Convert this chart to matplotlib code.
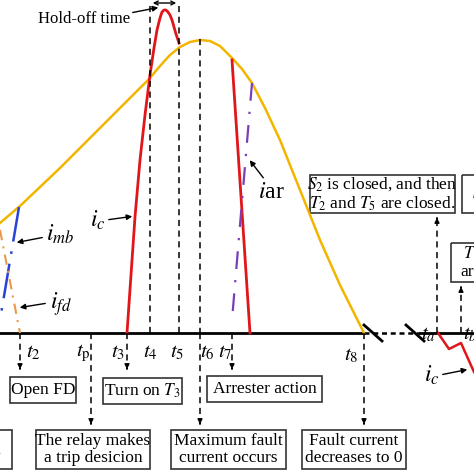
import numpy as np
import matplotlib.pyplot as plt
from matplotlib.patches import Rectangle

plt.rcParams['font.family'] = ['Liberation Serif', 'DejaVu Serif']
plt.rcParams['mathtext.fontset'] = 'stix'

# ---- data (drawing units) ----
fault_x = [0, 20, 60, 100, 140, 150, 160, 170, 180, 190, 200, 210, 220, 232, 242, 252,
           265, 280, 300, 320, 340, 364]
fault_y = [223, 206, 168, 128, 88, 78, 66, 55, 47, 42, 40, 41, 46, 58, 69, 83,
           108, 140, 190, 240, 285, 333]
ic1_x = [127, 131, 135, 140, 145, 150, 154, 157, 160, 162, 164, 166, 168, 170, 172, 174, 176, 179]
ic1_y = [333, 275, 217, 160, 115, 75, 48, 30, 18, 12, 10, 10, 12, 15, 20, 27, 34, 43]
ic2_x = [232, 250]
ic2_y = [60, 333]
iar_x = [252, 232]
iar_y = [83, 320]
imb_x = [19, 0]
imb_y = [207, 320]
ifd_x = [0, 20]
ifd_y = [230, 333]
icr_x = [438, 449, 461, 474]
icr_y = [333, 349, 343, 372]

tick_x = [20, 91, 127, 150, 179, 200, 232, 364, 437, 461]
tick_lbl = ['$t_2$', '$t_\\mathrm{p}$', '$t_3$', '$t_4$', '$t_5$', '$t_6$', '$t_7$', '$t_8$', '$t_a$', '$t_b$']
tick_lx = [33, 83, 118, 150, 177, 207, 225, 351, 428, 470]
tick_ly = [343, 343, 343, 343, 343, 343, 343, 346, 325, 325]

boxes = [
    (10, 377, 66, 26, 'Open FD'),
    (103, 378, 79, 26, 'Turn on $T_3$'),
    (207, 376, 115, 26, 'Arrester action'),
    (-20, 430, 32, 39, 'd'),
    (36, 430, 114, 39, 'The relay makes\na trip desicion'),
    (171, 430, 115, 39, 'Maximum fault\ncurrent occurs'),
    (302, 430, 104, 39, 'Fault current\ndecreases to 0'),
    (310, 175, 145, 38, '$S_2$ is closed, and then\n$T_2$ and $T_5$ are closed.'),
    (462, 175, 30, 38, '$S$'),
    (451, 243, 40, 39, '$T_1$\nare'),
]

fig = plt.figure(figsize=(4.74, 4.74), dpi=100)
ax = fig.add_axes([0, 0, 1, 1])
ax.set_xlim(0, 474)
ax.set_ylim(474, 0)
ax.axis('off')

# axis line with break
ax.plot([0, 364], [333, 333], color='black', lw=2)
ax.plot([364, 420], [333, 333], color='black', lw=1.8, ls=(0, (2, 1.5)))
ax.plot([420, 474], [333, 333], color='black', lw=2)
for bx in [373, 415]:
    ax.plot([bx - 9, bx + 9], [325, 341], color='black', lw=2)

# curves
ax.plot(fault_x, fault_y, color='#f2b600', lw=1.8)
ax.plot(ic1_x, ic1_y, color='#e0161a', lw=2)
ax.plot(ic2_x, ic2_y, color='#e0161a', lw=2)
ax.plot(iar_x, iar_y, color='#7b3fb5', lw=1.6, ls=(0, (8, 5, 1, 5)))
ax.plot(imb_x, imb_y, color='#2a43d6', lw=1.8, ls=(0, (14, 4, 1, 4)))
ax.plot(ifd_x, ifd_y, color='#e89a4a', lw=1.5, ls=(0, (5, 3, 1, 3)))
ax.plot(icr_x, icr_y, color='#e0161a', lw=1.8)

# dashed markers
dash = dict(color='black', lw=1.1, ls=(0, (4, 3)))
ax.plot([150, 150], [6, 333], **dash)
ax.plot([179, 179], [6, 333], **dash)
ax.plot([200, 200], [39, 333], **dash)
down = {20: 372, 91: 427, 127: 372, 200: 427, 232: 372, 364: 427}
for x, y2 in down.items():
    ax.plot([x, x], [333, y2 - 5], **dash)
    ax.annotate('', xy=(x, y2), xytext=(x, y2 - 6),
                arrowprops=dict(arrowstyle='-|>', color='black', lw=1, mutation_scale=7))
for x, y2 in [(437, 215), (461, 284)]:
    ax.plot([x, x], [333, y2 + 5], **dash)
    ax.annotate('', xy=(x, y2), xytext=(x, y2 + 6),
                arrowprops=dict(arrowstyle='-|>', color='black', lw=1, mutation_scale=7))

for x, lbl, lx, ly in zip(tick_x, tick_lbl, tick_lx, tick_ly):
    ax.text(lx, ly, lbl, fontsize=15, ha='center', va='top')

for x, y, w, h, s in boxes:
    ax.add_patch(Rectangle((x, y), w, h, fill=False, ec='#333333', lw=1.2, clip_on=True))
    ax.text(x + w / 2, y + h / 2, s, fontsize=12.5, ha='center', va='center', linespacing=1.1)

# hold-off time
ax.annotate('', xy=(150, 3), xytext=(179, 3),
            arrowprops=dict(arrowstyle='<->', color='black', lw=1, mutation_scale=7))
ax.text(38, 19, 'Hold-off time', fontsize=12, va='center')
ax.annotate('', xy=(161, 7), xytext=(130, 13),
            arrowprops=dict(arrowstyle='-|>', color='black', lw=1, mutation_scale=8))

# current labels
arr = dict(arrowstyle='-|>', color='black', lw=1, mutation_scale=8)
ax.annotate('', xy=(135, 216), xytext=(106, 220), arrowprops=arr)
ax.text(90, 220, '$i_c$', fontsize=17, va='center')
ax.annotate('', xy=(14, 243), xytext=(45, 237), arrowprops=arr)
ax.text(46, 234, '$i_{mb}$', fontsize=17, va='center')
ax.annotate('', xy=(17, 308), xytext=(48, 303), arrowprops=arr)
ax.text(50, 304, '$i_{fd}$', fontsize=17, va='center')
ax.annotate('', xy=(248, 158), xytext=(265, 180), arrowprops=arr)
ax.text(258, 192, '$i$ar', fontsize=17, va='center')
ax.annotate('', xy=(470, 369), xytext=(440, 375), arrowprops=arr)
ax.text(424, 375, '$i_c$', fontsize=17, va='center')

fig.savefig('out.png', dpi=100)
